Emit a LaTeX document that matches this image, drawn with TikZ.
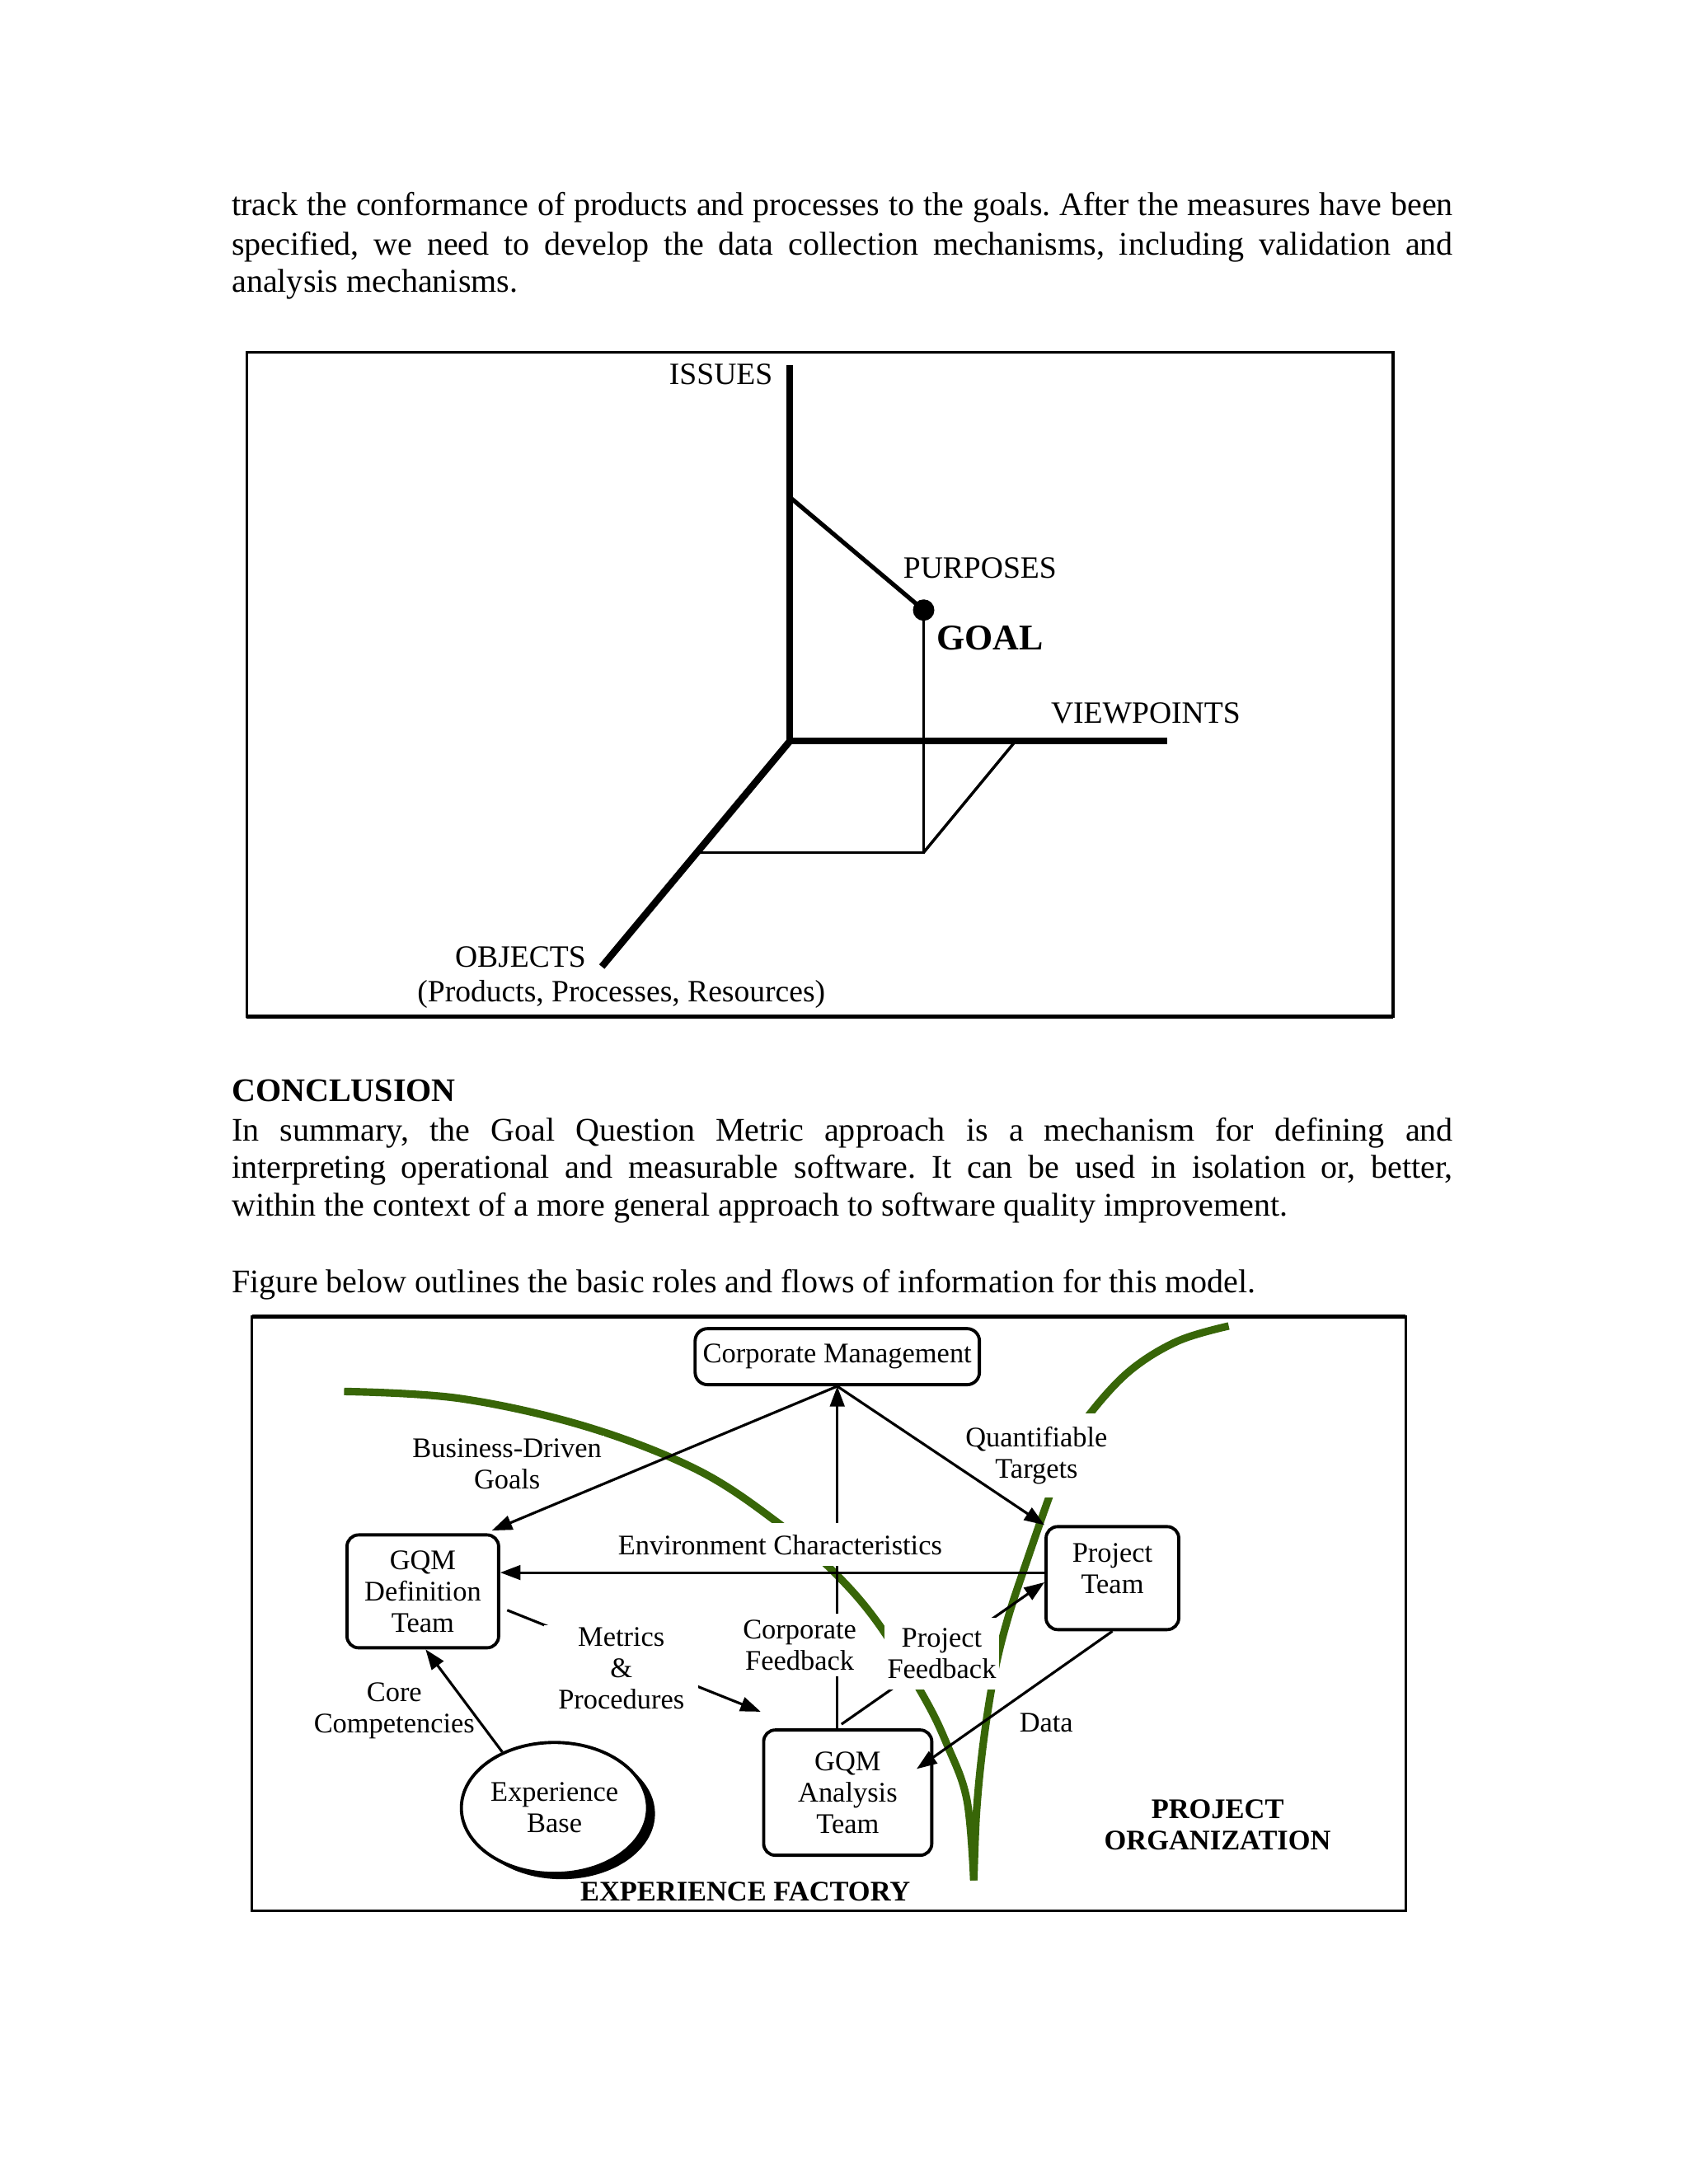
\documentclass[tikz,border=0pt]{standalone}
\usepackage{fontspec}
\setmainfont{Liberation Serif}
\usepackage{xcolor}
\usetikzlibrary{arrows.meta,shapes.geometric,shadows,calc}
\frenchspacing

\definecolor{leafgreen}{RGB}{56,102,8}

\begin{document}
\begin{tikzpicture}[x=0.0169cm,y=-0.0169cm,
    bodytext/.style={anchor=base west,inner sep=0pt,font=\fontsize{11.4}{13.2}\selectfont},
    axlbl/.style={inner sep=0pt,font=\fontsize{10.7}{12}\selectfont},
    axisline/.style={line width=2.4pt},
    midline/.style={line width=1.5pt},
    thinline/.style={line width=1pt},
    teambox/.style={draw,line width=1.1pt,rounded corners=0.14cm,fill=white,align=center,
        inner sep=0pt,font=\fontsize{9.8}{10.8}\selectfont},
    boxtext/.style={align=center,inner sep=0pt,font=\fontsize{9.8}{10.8}\selectfont},
    lbl/.style={fill=white,align=center,inner sep=1pt,font=\fontsize{9.8}{10.8}\selectfont},
    boldlbl/.style={align=center,inner sep=0pt,font=\fontsize{9.8}{10.8}\selectfont\bfseries},
    conn/.style={line width=0.9pt,-{Triangle[length=7pt,width=5pt]}},
    leaf/.style={leafgreen,line width=2.6pt}]

    \useasboundingbox[fill=white] (0,0) rectangle (1212,1568);

    % text above the first figure
    \node[bodytext] (para1a) at (166,155) {\makebox[14.82cm][s]{track the conformance of products and processes to the goals. After the measures have been}};
    \node[bodytext] (para1b) at (166,183) {\makebox[14.82cm][s]{specified, we need to develop the data collection mechanisms, including validation and}};
    \node[bodytext] (para1c) at (166,210) {analysis mechanisms.};

    % goal dimensions figure
    \draw[line width=0.9pt] (177,253) rectangle (1000,730);
    \draw[line width=1.4pt] (177,730) -- (1000,730);
    \coordinate (orig) at (567,532);
    \draw[axisline] (orig) -- (567,262);
    \draw[axisline] (orig) -- (838,532);
    \draw[axisline] (orig) -- (432,694);
    \draw[midline] (567,357) -- (663,438);
    \draw[thinline] (663,438) -- (663,612) -- (500,612);
    \draw[thinline] (663,612) -- (729,532);
    \fill (663,438) circle[radius=0.13cm];
    \node[axlbl,anchor=east] (issues) at (555,269) {ISSUES};
    \node[axlbl,anchor=west] (purposes) at (648,408) {PURPOSES};
    \node[axlbl,anchor=west,font=\fontsize{12.5}{14}\selectfont\bfseries] (goal) at (672,458) {GOAL};
    \node[axlbl,anchor=west] (viewpoints) at (754,512) {VIEWPOINTS};
    \node[axlbl,anchor=east] (objects) at (421,687) {OBJECTS};
    \node[axlbl] (objlist) at (446,714) {(Products, Processes, Resources)};

    % conclusion
    \node[bodytext,font=\fontsize{11.4}{13.2}\selectfont\bfseries] (concl) at (166,791) {CONCLUSION};
    \node[bodytext] (para2a) at (166,819) {\makebox[14.82cm][s]{In summary, the Goal Question Metric approach is a mechanism for defining and}};
    \node[bodytext] (para2b) at (166,846) {\makebox[14.82cm][s]{interpreting operational and measurable software. It can be used in isolation or, better,}};
    \node[bodytext] (para2c) at (166,873) {within the context of a more general approach to software quality improvement.};
    \node[bodytext] (para3) at (166,928) {Figure below outlines the basic roles and flows of information for this model.};

    % roles and flows figure
    \draw[line width=0.9pt] (181,945) rectangle (1009,1372);
    \draw[line width=1.4pt] (181,945) -- (1009,945);

    \node[teambox,minimum width=3.45cm,minimum height=0.68cm,rounded corners=0.15cm] (corpmgmt) at (601,974) {Corporate Management};
    \node[teambox,minimum width=1.84cm,minimum height=1.37cm] (gqmdef) at (303.5,1142.5) {GQM\\Definition\\Team};
    \node[teambox,minimum width=1.61cm,minimum height=1.25cm] (projteam) at (798.5,1133) {};
    \node[boxtext] (projteamtxt) at (798.5,1126) {Project\\Team};
    \node[teambox,minimum width=2.04cm,minimum height=1.52cm] (gqmana) at (608.5,1287) {GQM\\Analysis\\Team};
    \node[ellipse,draw,line width=1.1pt,fill=white,minimum width=2.26cm,minimum height=1.59cm,inner sep=0pt,
        align=center,font=\fontsize{9.8}{10.8}\selectfont,
        drop shadow={shadow xshift=0.09cm,shadow yshift=-0.07cm,fill=black,opacity=1}] (expbase) at (398,1298) {Experience\\Base};

    % green boundaries
    \draw[leaf] plot[smooth,tension=0.6] coordinates {(247,999) (330,1004) (420,1024) (500,1055) (558,1093) (598,1128) (630,1165) (663,1218) (680,1253) (694,1292) (699,1350)};
    \draw[leaf] plot[smooth,tension=0.6] coordinates {(882,952) (845,963) (810,985) (780,1018) (765,1043) (753,1075) (738,1118) (724,1160) (714,1200) (706,1250) (701,1300) (699,1350)};

    % flows broken by their labels
    \draw[conn] ($(gqmana.north)+(-7.5,0)$) -- (corpmgmt.south);
    \draw[conn] ($(gqmdef.east)+(5,13.5)$) -- ($(gqmana.north west)+(-1,-12)$);
    \draw[conn] ($(gqmana.north)+(-4.5,-3)$) -- ($(projteam.west)+(0,3)$);

    \node[lbl] (bizgoals) at (364,1051) {Business-Driven\\Goals};
    \node[lbl,inner ysep=0.16cm,inner xsep=1pt] (quanttgt) at (744,1045) {Quantifiable\\Targets};
    \node[lbl,inner ysep=0.14cm] (envchar) at (560,1109) {Environment Characteristics};
    \node[lbl,inner xsep=0.17cm] (metrics) at (446,1198) {Metrics\\\&\\Procedures};
    \node[lbl,inner ysep=0.07cm] (corpfb) at (574,1181) {Corporate\\Feedback};
    \node[lbl,inner ysep=0.13cm,inner xsep=1pt] (projfb) at (676,1187) {Project\\Feedback};
    \node[lbl] (datalbl) at (751,1237) {Data};
    \node[lbl] (corecomp) at (283,1228) {Core\\Competencies};
    \node[boldlbl] (expfact) at (535,1358) {EXPERIENCE FACTORY};
    \node[boldlbl] (projorg) at (874,1310) {PROJECT\\ORGANIZATION};

    % remaining flows
    \draw[conn] (corpmgmt.south) -- ($(gqmdef.north east)+(-6,-2)$);
    \draw[conn] (corpmgmt.south) -- (projteam.north west);
    \draw[conn] ($(projteam.west)+(0,-4)$) -- ($(gqmdef.east)+(0,-13.5)$);
    \draw[conn] (projteam.south) -- ($(gqmana.east)+(-12,-17)$);
    \draw[conn] (expbase.133) -- ($(gqmdef.south)+(2,0)$);
\end{tikzpicture}
\end{document}
